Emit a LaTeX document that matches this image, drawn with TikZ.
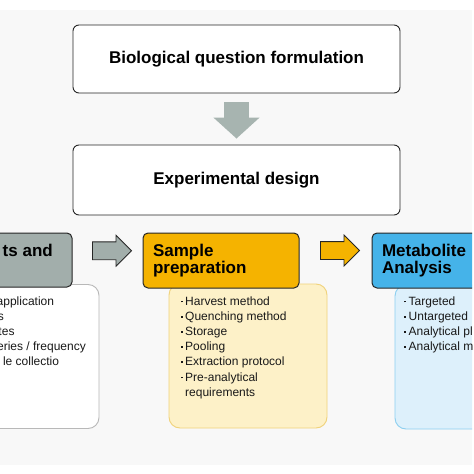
\documentclass[tikz,border=0pt]{standalone}
\usepackage{fontspec}
\setmainfont{Liberation Sans}
\usetikzlibrary{arrows.meta,shapes.arrows,calc}
\definecolor{bggray}{HTML}{F8F8F8}
\definecolor{arrowgray}{HTML}{A7B4B0}
\definecolor{headgray}{HTML}{A2AEAB}
\definecolor{prepor}{HTML}{F5B300}
\definecolor{anablue}{HTML}{45B3E9}
\definecolor{listyellow}{HTML}{FDF1C8}
\definecolor{lineyellow}{HTML}{F0D27A}
\definecolor{listblue}{HTML}{DDF0FB}
\definecolor{lineblue}{HTML}{8CCFF0}
\definecolor{linegray}{HTML}{B8B8B8}
\newcommand{\itembul}{\makebox[4.5pt][l]{\rule[2.7pt]{1.8pt}{1.8pt}}}
\newcommand{\nobul}{\hspace*{4.5pt}}

\begin{document}
\begin{tikzpicture}[x=1pt,y=-1pt,
  topbox/.style={draw=black!85, fill=white, rounded corners=6pt, line width=0.9pt, minimum width=327pt, font=\bfseries\fontsize{17}{20}\selectfont},
  headbox/.style={draw=black!85, rounded corners=5pt, line width=1pt, minimum height=55pt, inner ysep=0pt, inner xsep=10pt, align=left, font=\bfseries\fontsize{17}{17.5}\selectfont},
  listbox/.style={rounded corners=11pt, line width=0.9pt, minimum height=144pt, inner sep=0pt},
  item/.style={inner sep=0pt, text=black!90, font=\fontsize{12}{14}\selectfont},
  fatarrow/.style={single arrow, draw=black!85, line width=0.8pt, minimum height=39pt, inner sep=8.5pt, single arrow head extend=6.5pt}
]
\useasboundingbox (0,0) rectangle (474,474);
\fill[white] (0,0) rectangle (474,474);
\fill[bggray] (0,10) rectangle (472,465);
\begin{scope}
\clip (0,10) rectangle (472,465);

\node[topbox, minimum height=68pt] (bio) at (236.5,59) {Biological question formulation};
\node[topbox, minimum height=70pt] (design) at (236.5,180) {Experimental design};
\draw[arrowgray, line width=25pt, -{Triangle[width=45pt,length=21pt]}, shorten <=9pt, shorten >=6pt] (bio) -- (design);

\node[listbox, draw=linegray, fill=white, minimum width=130pt] (explist) at (34,356.5) {};
\node[listbox, draw=lineyellow, fill=listyellow, minimum width=158pt] (preplist) at (248,356) {};
\node[listbox, draw=lineblue, fill=listblue, minimum width=130pt] (analist) at (460,357) {};

\node[headbox, fill=headgray, minimum width=102pt, minimum height=54pt] (exphead) at (21,260) {};
\node[inner sep=0pt, anchor=base east, font=\bfseries\fontsize{17}{17.5}\selectfont] (exptext) at (53,256) {ts and};
\node[headbox, fill=prepor, text width=136pt] (prephead) at (221,260.5) {Sample\\preparation};
\node[headbox, fill=anablue, text width=108pt] (anahead) at (436,260.5) {Metabolite\\Analysis};

\node[fatarrow, fill=headgray] (arrexp) at ($(exphead.east)!0.5!(prephead.west)+(0,-9.5)$) {};
\node[fatarrow, fill=prepor] (arrprep) at ($(prephead.east)!0.5!(anahead.west)+(0,-10)$) {};

\foreach \t/\e [count=\i] in {application/54.3, s/4, tes/14.7, {eries / frequency}/86, le collectio/59.3}
  \node[item, anchor=base east] (exp\i) at (\e, 290+15*\i) {\t};
\foreach \t [count=\i] in {\itembul Harvest method, \itembul Quenching method, \itembul Storage, \itembul Pooling, \itembul Extraction protocol, \itembul Pre-analytical, \nobul requirements}
  \node[item, anchor=base west] (prep\i) at (180.5, 289.8+15.2*\i) {\t};
\foreach \t [count=\i] in {\itembul Targeted, \itembul Untargeted, \itembul Analytical platform, \itembul Analytical method}
  \node[item, anchor=base west] (ana\i) at (404, 289.8+15.2*\i) {\t};
\end{scope}
\end{tikzpicture}
\end{document}
